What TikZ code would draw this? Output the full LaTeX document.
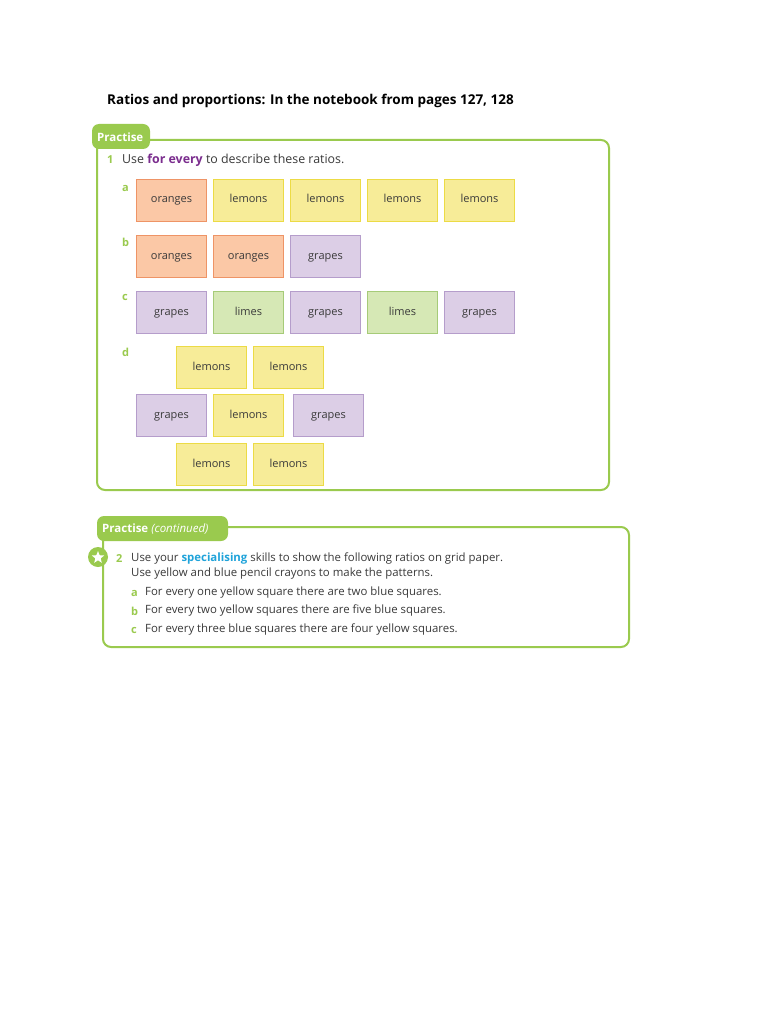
\documentclass[tikz,border=0pt]{standalone}
\usepackage{fontspec}
\setmainfont{Open Sans}
\usetikzlibrary{shapes.geometric}
\definecolor{gr}{HTML}{9ACA4E}
\definecolor{orf}{HTML}{FBC8A6}\definecolor{ord}{HTML}{EE9466}
\definecolor{yef}{HTML}{F7EC98}\definecolor{yed}{HTML}{ECDB45}
\definecolor{puf}{HTML}{DCCEE6}\definecolor{pud}{HTML}{B59DCB}
\definecolor{gnf}{HTML}{D6E8B5}\definecolor{gnd}{HTML}{A6CB78}
\definecolor{txt}{HTML}{3A3A3A}\definecolor{vio}{HTML}{7B2D8E}\definecolor{cy}{HTML}{1FA3DA}
\begin{document}
\begin{tikzpicture}[x=1pt,y=-1pt,
 cell/.style={draw=#1d,fill=#1f,line width=1pt,minimum width=70pt,minimum height=42pt,anchor=north west,inner sep=0pt,text height=7pt,text depth=2pt,font=\fontsize{11}{13}\selectfont,text=txt},
 lab/.style={text=gr,font=\fontsize{11}{13}\selectfont\bfseries,anchor=west,inner sep=0pt},
 body/.style={text=txt,font=\fontsize{11.4}{14}\selectfont,anchor=west,inner sep=0pt}]
\useasboundingbox (0,0) rectangle (768,1024);
\fill[white] (0,0) rectangle (768,1024);
\node[anchor=west,inner sep=0pt,font=\fontsize{13.5}{16}\selectfont\bfseries] (title) at (107,101) {Ratios and proportions: In the notebook from pages 127, 128};
% box 1
\draw[gr,line width=2pt,rounded corners=8pt] (97,140) rectangle (609,490);
\fill[gr,rounded corners=7pt] (92,124) rectangle (150,149);
\node[anchor=west,inner sep=0pt,text=white,font=\fontsize{11.5}{13}\selectfont\bfseries] (p1) at (97,137) {Practise};
\node[lab] (n1) at (107,160) {1};
\node[body,font=\fontsize{12.4}{14}\selectfont] (q1) at (122,160) {Use \textcolor{vio}{\bfseries for every} to describe these ratios.};
\node[lab] at (122,188) {a};
\node[lab] at (122,242) {b};
\node[lab] at (122,297) {c};
\node[lab] at (122,352) {d};
\node[cell=or] (a1) at (136,179) {oranges};
\node[cell=ye] (a2) at (213,179) {lemons};
\node[cell=ye] (a3) at (290,179) {lemons};
\node[cell=ye] (a4) at (367,179) {lemons};
\node[cell=ye] (a5) at (444,179) {lemons};
\node[cell=or] (b1) at (136,235) {oranges};
\node[cell=or] (b2) at (213,235) {oranges};
\node[cell=pu] (b3) at (290,235) {grapes};
\node[cell=pu] (c1) at (136,291) {grapes};
\node[cell=gn] (c2) at (213,291) {limes};
\node[cell=pu] (c3) at (290,291) {grapes};
\node[cell=gn] (c4) at (367,291) {limes};
\node[cell=pu] (c5) at (444,291) {grapes};
\node[cell=ye] (d1) at (176,346) {lemons};
\node[cell=ye] (d2) at (253,346) {lemons};
\node[cell=pu] (d3) at (136,394) {grapes};
\node[cell=ye] (d4) at (213,394) {lemons};
\node[cell=pu] (d5) at (293,394) {grapes};
\node[cell=ye] (d6) at (176,443) {lemons};
\node[cell=ye] (d7) at (253,443) {lemons};
% box 2
\draw[gr,line width=2pt,rounded corners=8pt] (103,527) rectangle (629,647);
\fill[gr,rounded corners=7pt] (97,516) rectangle (228,541);
\node[anchor=west,inner sep=0pt,text=white,font=\fontsize{11.5}{13}\selectfont] (p2) at (102,529) {\textbf{Practise} \textit{(continued)}};
\fill[gr] (98,557) circle (10);
\node[star,star points=5,star point ratio=2.3,fill=white,inner sep=0pt,minimum size=13pt] (st) at (98,557.5) {};
\node[lab] (n2) at (116,559) {2};
\node[body] (q2) at (131,559) {Use your \textcolor{cy}{\bfseries specialising} skills to show the following ratios on grid paper.};
\node[body] (q2b) at (131,574) {Use yellow and blue pencil crayons to make the patterns.};
\node[lab] at (131,593) {a};
\node[body] (qa) at (145,593) {For every one yellow square there are two blue squares.};
\node[lab] at (131,611) {b};
\node[body] (qb) at (145,611) {For every two yellow squares there are five blue squares.};
\node[lab] at (131,630) {c};
\node[body] (qc) at (145,630) {For every three blue squares there are four yellow squares.};
\end{tikzpicture}
\end{document}
